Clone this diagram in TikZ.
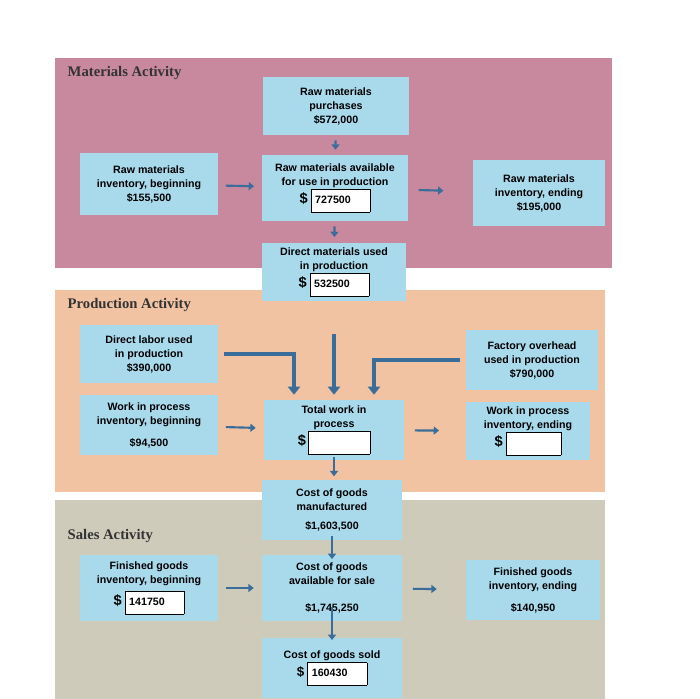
\documentclass[tikz,border=0pt]{standalone}
\usepackage{fontspec}
\setsansfont{Liberation Sans}
\setmainfont{Liberation Serif}
\usetikzlibrary{arrows.meta,calc}
\definecolor{pinkband}{HTML}{C8889E}
\definecolor{peachband}{HTML}{F2C3A2}
\definecolor{grayband}{HTML}{CFCBBA}
\definecolor{boxblue}{HTML}{A9DAEB}
\definecolor{arrowblue}{HTML}{3A6D99}
\newcommand{\inbox}[2]{\fcolorbox{black}{white}{\makebox[#1][l]{\strut #2}}}
\tikzset{
  acct/.style={fill=boxblue, align=center, font=\sffamily\bfseries\fontsize{8}{10.5}\selectfont, inner sep=1pt},
  title/.style={anchor=west, font=\rmfamily\bfseries\fontsize{11}{13}\selectfont, text=black!80},
  sarrow/.style={draw=arrowblue, line width=1.6pt, -{Triangle[length=4pt,width=6pt]}},
  bigline/.style={draw=arrowblue, line width=3pt, -{Triangle[length=6pt,width=9pt]}}
}
\begin{document}
\begin{tikzpicture}[x=0.75pt,y=-0.75pt]
\useasboundingbox[fill=white] (0,0) rectangle (700,699);
\fill[pinkband] (55,58) rectangle (612,268);
\fill[peachband] (55,290) rectangle (605,492);
\fill[grayband] (55,500) rectangle (605,699);
\node[title] (t1) at (63,73) {Materials Activity};
\node[title] (t2) at (63,305) {Production Activity};
\node[title] (t3) at (63,536) {Sales Activity};

\node[acct, minimum width=110pt, minimum height=43pt] (rmp) at (336,106) {Raw materials\\purchases\\\$572,000};
\node[acct, minimum width=103pt, minimum height=47pt] (rmb) at (149,184) {Raw materials\\inventory, beginning\\\$155,500};
\node[acct, minimum width=109pt, minimum height=49pt] (rma) at (335,188) {Raw materials available\\for use in production\\{\fontsize{11}{12}\selectfont\$} \inbox{38pt}{727500}};
\node[acct, minimum width=99pt, minimum height=49pt] (rme) at (539,193) {Raw materials\\inventory, ending\\\$195,000};
\node[acct, minimum width=108pt, minimum height=44pt] (dmu) at (334,272) {Direct materials used\\in production\\{\fontsize{11}{12}\selectfont\$} \inbox{38pt}{532500}};
\node[acct, minimum width=103pt, minimum height=43pt] (dl) at (149,354) {Direct labor used\\in production\\\$390,000};
\node[acct, minimum width=99pt, minimum height=45pt] (foh) at (532,360) {Factory overhead\\used in production\\\$790,000};
\node[acct, minimum width=103pt, minimum height=45pt] (wipb) at (149,425) {Work in process\\inventory, beginning\\[6pt]\$94,500};
\node[acct, minimum width=105pt, minimum height=45pt] (twip) at (334,430) {Total work in\\process\\{\fontsize{11}{12}\selectfont\$}\,\inbox{40pt}{}};
\node[acct, minimum width=93pt, minimum height=43pt] (wipe) at (528,431) {Work in process\\inventory, ending\\{\fontsize{11}{12}\selectfont\$} \inbox{35pt}{}};
\node[acct, minimum width=105pt, minimum height=45pt] (cogm) at (332,510) {Cost of goods\\manufactured\\[4pt]\$1,603,500};
\node[acct, minimum width=103pt, minimum height=49pt] (fgb) at (149,588) {Finished goods\\inventory, beginning\\[3pt]{\fontsize{11}{12}\selectfont\$} \inbox{38pt}{141750}};
\node[acct, minimum width=105pt, minimum height=49pt] (cogas) at (332,588) {Cost of goods\\available for sale\\[10pt]\$1,745,250};
\node[acct, minimum width=100pt, minimum height=45pt] (fge) at (533,590) {Finished goods\\inventory, ending\\[6pt]\$140,950};
\node[acct, minimum width=105pt, minimum height=45pt, anchor=north] (cogs) at (332,638) {Cost of goods sold\\{\fontsize{10}{11}\selectfont\$} \inbox{38pt}{160430}};

\draw[sarrow, shorten <=4pt, shorten >=4pt] (rmp) -- (rma);
\draw[sarrow, shorten <=6pt, shorten >=6pt] (rmb) -- (rma);
\draw[sarrow, shorten <=8pt, shorten >=22pt] (rma) -- (rme);
\draw[sarrow, shorten <=4pt, shorten >=4pt] (rma) -- (dmu);
\draw[sarrow, shorten <=6pt, shorten >=6pt] (wipb) -- (twip);
\draw[sarrow, shorten <=8pt, shorten >=20pt] (twip) -- (wipe);
\draw[sarrow] ($(twip.south)+(0,-3)$) -- ($(twip.south)+(0,16)$);
\draw[sarrow] ($(cogm.south)+(0,-4)$) -- ($(cogas.north)+(0,4)$);
\draw[sarrow, shorten <=6pt, shorten >=6pt] (fgb) -- (cogas);
\draw[sarrow, shorten <=8pt, shorten >=22pt] (cogas) -- (fge);
\draw[sarrow] ($(cogas.south)+(0,-14)$) -- ($(cogs.north)+(0,2)$);

\coordinate (inl) at ($(twip.north)+(-40,-5)$);
\coordinate (inr) at ($(twip.north)+(40,-5)$);
\draw[bigline] ($(dl.east)+(6,0)$) -| (inl);
\draw[bigline] ($(twip.north)+(0,-66)$) -- ($(twip.north)+(0,-5)$);
\draw[bigline] ($(foh.west)+(-6,0)$) -| (inr);
\end{tikzpicture}
\end{document}
